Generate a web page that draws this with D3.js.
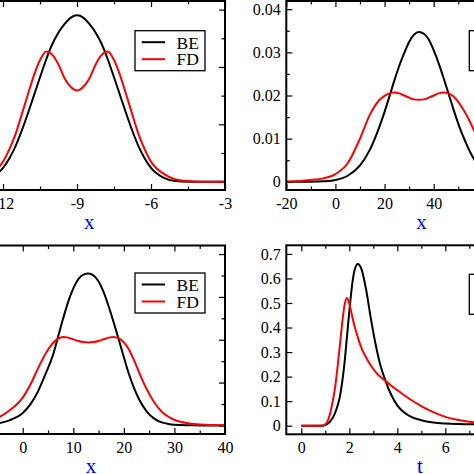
<!DOCTYPE html>
<html>
<head>
<meta charset="utf-8">
<script src="https://cdn.jsdelivr.net/npm/d3@7"></script>
<style>
  body { margin: 0; background: #fff; }
  svg { display: block; }
</style>
</head>
<body>
<div id="chart"></div>
<script>
// ---- data ----
const seriesNames = ["BE", "FD"];

// top left: distribution over x
const p1X  = [-14, -13.5, -13, -12.5, -12, -11.75, -11.5, -11.25, -11, -10.75, -10.5, -10.25, -10, -9.75, -9.5, -9.25, -9,
              -8.75, -8.5, -8.25, -8, -7.75, -7.5, -7.25, -7, -6.75, -6.5, -6.25, -6, -5.5, -5, -4.5, -4, -3.5, -3];
const p1BE = [0, 0, 0.001, 0.007, 0.024, 0.040, 0.061, 0.088, 0.118, 0.150, 0.182, 0.213, 0.240, 0.260, 0.275, 0.286, 0.290,
              0.286, 0.275, 0.260, 0.240, 0.213, 0.182, 0.150, 0.118, 0.088, 0.061, 0.040, 0.024, 0.007, 0.001, 0, 0, 0, 0];
const p1FD = [0, 0.001, 0.004, 0.014, 0.035, 0.056, 0.082, 0.116, 0.151, 0.185, 0.212, 0.227, 0.221, 0.204, 0.180, 0.165, 0.159,
              0.165, 0.180, 0.204, 0.221, 0.227, 0.212, 0.185, 0.151, 0.116, 0.082, 0.056, 0.035, 0.014, 0.004, 0.001, 0, 0, 0];

// top right
const p2X  = [-20, -15, -10, -5, 0, 5, 10, 14, 18, 20, 22, 24, 26, 28, 30, 32, 34, 36, 38, 40, 42, 44, 46, 48, 50,
              52, 54, 57, 60, 64, 68, 72, 76, 80, 85, 90];
const p2BE = [0, 0, 0, 0.0001, 0.0004, 0.0014, 0.0038, 0.0074, 0.0129, 0.0162, 0.0198, 0.0235, 0.0269, 0.0298, 0.0324,
              0.0341, 0.0347, 0.0343, 0.0330, 0.0305, 0.0275, 0.0241, 0.0205, 0.0169, 0.0135, 0.0105, 0.0079, 0.0047,
              0.0026, 0.0010, 0.0004, 0.0001, 0, 0, 0, 0];
const p2FD = [0, 0.0002, 0.0004, 0.0008, 0.0018, 0.0043, 0.0100, 0.0155, 0.0190, 0.0199, 0.0205, 0.0207, 0.0205, 0.0200,
              0.0195, 0.0191, 0.0190, 0.0191, 0.0195, 0.0200, 0.0205, 0.0207, 0.0205, 0.0198, 0.0185, 0.0168, 0.0148,
              0.0112, 0.0078, 0.0043, 0.0021, 0.0009, 0.0004, 0.0002, 0.0001, 0];

// bottom left
const p3X  = [-13, -10, -7.5, -5, -2.5, 0, 1.5, 3, 4.5, 6, 7, 8, 9, 10, 11, 12, 13, 14, 15, 16, 17, 18, 19, 20, 21, 22,
              23, 24.5, 26, 27.5, 29, 31, 33, 36, 40];
const p3BE = [0, 0.0001, 0.0003, 0.0009, 0.0025, 0.0058, 0.0098, 0.0158, 0.0240, 0.0330, 0.0415, 0.0500, 0.0578, 0.0640,
              0.0683, 0.0704, 0.0709, 0.0700, 0.0672, 0.0622, 0.0555, 0.0480, 0.0400, 0.0318, 0.0240, 0.0175, 0.0122,
              0.0066, 0.0032, 0.0014, 0.0006, 0.0002, 0.0001, 0, 0];
const p3FD = [0.0004, 0.0010, 0.0020, 0.0036, 0.0072, 0.0130, 0.0190, 0.0265, 0.0335, 0.0385, 0.0405, 0.0413, 0.0410,
              0.0402, 0.0394, 0.0389, 0.0387, 0.0389, 0.0394, 0.0402, 0.0410, 0.0413, 0.0406, 0.0388, 0.0355, 0.0305,
              0.0248, 0.0170, 0.0108, 0.0064, 0.0038, 0.0018, 0.0009, 0.0003, 0.0001];

// bottom right: distribution over t
const p4X  = [0, 0.5, 0.9, 1.0, 1.1, 1.2, 1.3, 1.4, 1.5, 1.6, 1.7, 1.8, 1.9, 2.0, 2.1, 2.2, 2.35, 2.5, 2.7, 2.9, 3.1,
              3.3, 3.5, 3.75, 4.0, 4.5, 5.0, 5.5, 6.0, 6.5, 7.0, 7.5, 8.0];
const p4BE = [0, 0, 0, 0.003, 0.008, 0.017, 0.030, 0.050, 0.078, 0.115, 0.175, 0.255, 0.360, 0.465, 0.560, 0.625, 0.659,
              0.640, 0.555, 0.435, 0.330, 0.245, 0.185, 0.125, 0.083, 0.040, 0.022, 0.013, 0.009, 0.007, 0.006, 0.005, 0.004];
const p4FD = [0, 0, 0.001, 0.006, 0.020, 0.050, 0.095, 0.150, 0.230, 0.320, 0.415, 0.490, 0.520, 0.497, 0.455, 0.412,
              0.362, 0.318, 0.278, 0.245, 0.218, 0.198, 0.183, 0.163, 0.145, 0.110, 0.080, 0.055, 0.036, 0.024, 0.016,
              0.011, 0.008];

// tick values (left column y labels fall outside the cropped picture)
const p1XMajor = [-12, -9, -6, -3],            p1XMinor = [-13.5, -10.5, -7.5, -4.5];
const p1YMajor = [0, 0.1, 0.2, 0.3],           p1YMinor = [0.05, 0.15, 0.25];
const p2XMajor = [-20, 0, 20, 40, 60, 80],     p2XMinor = [-10, 10, 30, 50, 70];
const p2YMajor = [0, 0.01, 0.02, 0.03, 0.04],  p2YMinor = [0.005, 0.015, 0.025, 0.035];
const p3XMajor = [0, 10, 20, 30, 40],          p3XMinor = [-10, -5, 5, 15, 25, 35];
const p3YMajor = [0, 0.02, 0.04, 0.06, 0.08],  p3YMinor = [0.01, 0.03, 0.05, 0.07];
const p4XMajor = [0, 2, 4, 6, 8, 10],          p4XMinor = [1, 3, 5, 7, 9];
const p4YMajor = [0, 0.1, 0.2, 0.3, 0.4, 0.5, 0.6, 0.7], p4YMinor = [];

const colors = { BE: "#000000", FD: "#ff0000" };
const FONT = "'Liberation Serif', 'Times New Roman', serif";

class DistPanel {
  constructor(_svg, _config) {
    this.svg = _svg;
    this.config = _config;
    this.initVis();
  }

  initVis() {
    let vis = this;
    let c = vis.config;
    let b = c.box;

    vis.g = vis.svg.append("g");

    vis.x = d3.scaleLinear().domain(c.xDomain).range([b.left, b.right]);
    vis.y = d3.scaleLinear().domain(c.yDomain).range([b.bottom, b.top]);

    let yFormat = c.yLabels ? String : "";

    // ticks on every side, pointing in
    vis.addAxis(d3.axisBottom(vis.x).tickValues(c.xMajor).tickSize(-6).tickPadding(7.5).tickFormat(String), 0, b.bottom);
    vis.addAxis(d3.axisBottom(vis.x).tickValues(c.xMinor).tickSize(-3.5).tickFormat(""), 0, b.bottom);
    vis.addAxis(d3.axisTop(vis.x).tickValues(c.xMajor).tickSize(-6).tickFormat(""), 0, b.top);
    vis.addAxis(d3.axisTop(vis.x).tickValues(c.xMinor).tickSize(-3.5).tickFormat(""), 0, b.top);
    vis.addAxis(d3.axisLeft(vis.y).tickValues(c.yMajor).tickSize(-6).tickPadding(5.5).tickFormat(yFormat), b.left, 0);
    vis.addAxis(d3.axisLeft(vis.y).tickValues(c.yMinor).tickSize(-3.5).tickFormat(""), b.left, 0);
    vis.addAxis(d3.axisRight(vis.y).tickValues(c.yMajor).tickSize(-6).tickFormat(""), b.right, 0);
    vis.addAxis(d3.axisRight(vis.y).tickValues(c.yMinor).tickSize(-3.5).tickFormat(""), b.right, 0);

    vis.line = d3.line()
        .x(d => vis.x(d.x))
        .y(d => vis.y(d.y))
        .curve(d3.curveMonotoneX);

    vis.wrangleData();
  }

  addAxis(axis, tx, ty) {
    let vis = this;
    let g = vis.g.append("g")
        .attr("transform", `translate(${tx},${ty})`)
        .call(axis)
        .attr("font-family", FONT)
        .attr("font-size", 16);
    g.select(".domain").remove();
    g.selectAll("line").attr("stroke", "#000").attr("stroke-width", 1.2);
    g.selectAll("text").attr("fill", "#000");
    // empty labels are left out
    g.selectAll("text").filter(function() { return this.textContent === ""; }).remove();
  }

  wrangleData() {
    let vis = this;
    let c = vis.config;
    vis.displayData = seriesNames.map(name => ({
      name: name,
      values: c.xs.map((xv, i) => ({ x: xv, y: c.series[name][i] }))
    }));
    vis.updateVis();
  }

  updateVis() {
    let vis = this;
    let c = vis.config;
    let b = c.box;

    vis.g.selectAll(".curve")
        .data(vis.displayData)
        .enter().append("path")
        .attr("class", "curve")
        .attr("fill", "none")
        .attr("stroke", d => colors[d.name])
        .attr("stroke-width", 2)
        .attr("d", d => vis.line(d.values));

    // frame
    vis.g.append("rect")
        .attr("x", b.left)
        .attr("y", b.top)
        .attr("width", b.right - b.left)
        .attr("height", b.bottom - b.top)
        .attr("fill", "none")
        .attr("stroke", "#000")
        .attr("stroke-width", 2);

    // axis title
    vis.g.append("text")
        .attr("x", (b.left + b.right) / 2)
        .attr("y", b.bottom + 38.5)
        .attr("text-anchor", "middle")
        .attr("font-family", FONT)
        .attr("font-size", 21)
        .attr("fill", "#0000ff")
        .text(c.xTitle);

    // legend
    let lg = vis.g.append("g").attr("transform", `translate(${c.legend[0]},${c.legend[1]})`);
    lg.append("rect")
        .attr("width", 70).attr("height", 40)
        .attr("fill", "#fff")
        .attr("stroke", "#000")
        .attr("stroke-width", 1.3);
    seriesNames.forEach((name, i) => {
      lg.append("line")
          .attr("x1", 6.7).attr("x2", 30)
          .attr("y1", 11.5 + i * 17).attr("y2", 11.5 + i * 17)
          .attr("stroke", colors[name])
          .attr("stroke-width", 2);
      lg.append("text")
          .attr("x", 41.5)
          .attr("y", 18 + i * 16.5)
          .attr("font-family", FONT)
          .attr("font-size", 17.5)
          .attr("fill", "#000")
          .text(name);
    });
  }
}

const svg = d3.select("#chart").append("svg")
    .attr("width", 474)
    .attr("height", 474);

new DistPanel(svg, {
  box: { left: -46.3, right: 225, top: 1, bottom: 190 },
  xDomain: [-14, -3], yDomain: [-0.0145, 0.315],
  xMajor: p1XMajor, xMinor: p1XMinor, yMajor: p1YMajor, yMinor: p1YMinor, yLabels: false,
  xs: p1X, series: { BE: p1BE, FD: p1FD },
  xTitle: "x", legend: [135, 30.7]
});

new DistPanel(svg, {
  box: { left: 286.3, right: 556.5, top: 1, bottom: 190 },
  xDomain: [-20, 90], yDomain: [-0.0019, 0.0419],
  xMajor: p2XMajor, xMinor: p2XMinor, yMajor: p2YMajor, yMinor: p2YMinor, yLabels: true,
  xs: p2X, series: { BE: p2BE, FD: p2FD },
  xTitle: "x", legend: [469.3, 30.7]
});

new DistPanel(svg, {
  box: { left: -43, right: 225, top: 245.5, bottom: 434 },
  xDomain: [-13, 40], yDomain: [-0.004, 0.084],
  xMajor: p3XMajor, xMinor: p3XMinor, yMajor: p3YMajor, yMinor: p3YMinor, yLabels: false,
  xs: p3X, series: { BE: p3BE, FD: p3FD },
  xTitle: "x", legend: [135, 273]
});

new DistPanel(svg, {
  box: { left: 286.3, right: 553.3, top: 245.3, bottom: 434.3 },
  xDomain: [-0.625, 10.5], yDomain: [-0.035, 0.735],
  xMajor: p4XMajor, xMinor: p4XMinor, yMajor: p4YMajor, yMinor: p4YMinor, yLabels: true,
  xs: p4X, series: { BE: p4BE, FD: p4FD },
  xTitle: "t", legend: [469.3, 274.3]
});
</script>
</body>
</html>
